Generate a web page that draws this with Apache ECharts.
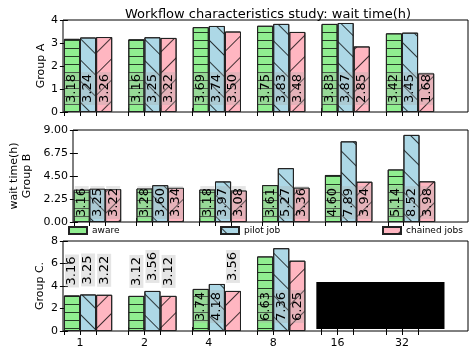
<!DOCTYPE html>
<html>
<head>
<meta charset="utf-8">
<script src="https://cdn.jsdelivr.net/npm/echarts@6/dist/echarts.min.js"></script>
<style>
  html, body { margin: 0; padding: 0; background: #fff; }
  #chart { width: 474px; height: 354px; }
</style>
</head>
<body>
<div id="chart"></div>
<script>
// categories (number of ...)
var groups = ['1', '2', '4', '8', '16', '32'];
var seriesNames = ['aware', 'pilot job', 'chained jobs'];

// Group A
var awareA   = [3.18, 3.16, 3.69, 3.75, 3.83, 3.42];
var pilotA   = [3.24, 3.25, 3.74, 3.83, 3.87, 3.45];
var chainedA = [3.26, 3.22, 3.50, 3.48, 2.85, 1.68];

// Group B
var awareB   = [3.16, 3.28, 3.18, 3.61, 4.60, 5.14];
var pilotB   = [3.25, 3.60, 3.97, 5.27, 7.89, 8.52];
var chainedB = [3.22, 3.34, 3.08, 3.36, 3.94, 3.98];

// Group C (16 and 32 are blacked out)
var awareC   = [3.16, 3.12, 3.74, 6.63, null, null];
var pilotC   = [3.25, 3.56, 4.18, 7.36, null, null];
var chainedC = [3.22, 3.12, 3.56, 6.25, null, null];

// black box over group C, in data coords [x0, y0, x1, y1]
var cMaskBox = [3.92, 4.36, 5.91, 0.18];

// y tick ranges
var yTicksA = [0, 1, 2, 3, 4];
var yTicksB = [0, 2.25, 4.5, 6.75, 9];
var yTicksC = [0, 2, 4, 6, 8];

var colors = ['#90ee90', '#add8e6', '#ffb6c1'];
var decals = [
    { symbol: 'rect', symbolSize: 1, dashArrayX: [1, 0], dashArrayY: [1, 6.5], rotation: 0, color: 'rgba(0,0,0,0.75)' },
    { symbol: 'rect', symbolSize: 1, dashArrayX: [1, 0], dashArrayY: [1, 14], rotation: Math.PI / 4, color: 'rgba(0,0,0,0.75)' },
    { symbol: 'rect', symbolSize: 1, dashArrayX: [1, 0], dashArrayY: [1, 14], rotation: -Math.PI / 4, color: 'rgba(0,0,0,0.75)' }
];
var font = 'DejaVu Sans';
var barW = 16.1;
var xMin = -0.014, xMax = 6.275;

var labelTicks = groups.map(function (g, i) { return i + 0.25; });
var minorTicks = [];
groups.forEach(function (g, i) { minorTicks.push(i, i + 0.25, i + 0.5); });

var grids = [
    { left: 63, right: 6, top: 20, height: 92 },
    { left: 63, right: 6, top: 130, height: 92 },
    { left: 63, right: 6, top: 241, height: 90 }
];

function xAxes(gi, showLabels) {
    var base = {
        type: 'value', gridIndex: gi, min: xMin, max: xMax,
        axisLine: { show: false }, splitLine: { show: false },
        axisTick: { show: true, inside: true, length: 4, customValues: minorTicks, lineStyle: { color: '#000' } }
    };
    var bottom = Object.assign({}, base, {
        position: 'bottom',
        axisLabel: {
            show: showLabels, customValues: labelTicks, margin: 7,
            fontFamily: font, fontSize: 11, color: '#000',
            formatter: function (v) { return groups[Math.round(v - 0.25)]; }
        }
    });
    var top = Object.assign({}, base, { position: 'top', axisLabel: { show: false } });
    return [bottom, top];
}

function yAxes(gi, ticks, name, nameGap, fmt) {
    var base = {
        type: 'value', gridIndex: gi, min: ticks[0], max: ticks[ticks.length - 1],
        interval: ticks[1] - ticks[0],
        axisLine: { show: false }, splitLine: { show: false },
        axisTick: { show: true, inside: true, length: 4, lineStyle: { color: '#000' } }
    };
    var left = Object.assign({}, base, {
        position: 'left',
        name: name, nameLocation: 'middle', nameGap: nameGap, nameRotate: 90,
        nameMoveOverlap: false,
        nameTextStyle: { fontFamily: font, fontSize: 11, color: '#000', lineHeight: 13 },
        axisLabel: { margin: 5, fontFamily: font, fontSize: 11, color: '#000', formatter: fmt }
    });
    var right = Object.assign({}, base, { position: 'right', axisLabel: { show: false } });
    return [left, right];
}

function barSeries(vals, k, gi, dist, aboveBelow) {
    var offset = 0.125 + 0.25 * k;
    var data = [];
    vals.forEach(function (v, i) {
        if (v == null) return;
        var item = { value: [i + offset, v] };
        if (aboveBelow != null && v < aboveBelow) {
            item.label = { position: 'top', distance: 8 };
        }
        data.push(item);
    });
    return {
        type: 'bar', name: seriesNames[k],
        xAxisIndex: gi * 2, yAxisIndex: gi * 2,
        barWidth: barW, barGap: '-100%',
        data: data,
        itemStyle: { color: colors[k], borderColor: '#222', borderWidth: 1, decal: decals[k] },
        label: {
            show: true, rotate: 90, position: 'insideBottom', distance: dist,
            align: 'left', verticalAlign: 'middle',
            fontFamily: font, fontSize: 13, color: '#000',
            backgroundColor: 'rgba(170,170,170,0.3)', padding: [1, 2, 0, 2],
            formatter: function (p) { return p.value[1].toFixed(2); }
        },
        emphasis: { disabled: true },
        z: 2
    };
}

var series = [];
[[awareA, pilotA, chainedA], [awareB, pilotB, chainedB], [awareC, pilotC, chainedC]].forEach(function (set, gi) {
    var dist = [7, 3, 8][gi];
    set.forEach(function (vals, k) {
        series.push(barSeries(vals, k, gi, dist, gi === 2 ? 3.6 : null));
    });
});

// blacked out area in group C
series[series.length - 1].markArea = {
    silent: true,
    itemStyle: { color: '#000', opacity: 1 },
    label: { show: false },
    data: [[{ coord: [cMaskBox[0], cMaskBox[1]] }, { coord: [cMaskBox[2], cMaskBox[3]] }]]
};

function legendFor(name, left) {
    return {
        data: [name], left: left, top: 226, icon: 'rect',
        itemWidth: 18, itemHeight: 7, itemGap: 0, padding: 0,
        textStyle: { fontFamily: font, fontSize: 9, color: '#000' },
        selectedMode: false
    };
}

var option = {
    animation: false,
    backgroundColor: '#fff',
    title: {
        text: 'Workflow characteristics study: wait time(h)',
        left: 263, top: 3, textAlign: 'center',
        textStyle: { fontFamily: font, fontSize: 13, fontWeight: 'normal', color: '#000' }
    },
    legend: [legendFor('aware', 68), legendFor('pilot job', 220), legendFor('chained jobs', 382)],
    grid: grids.map(function (g) {
        return Object.assign({ show: true, borderColor: '#000', borderWidth: 1, backgroundColor: '#fff' }, g);
    }),
    xAxis: [].concat(xAxes(0, false), xAxes(1, false), xAxes(2, true)),
    yAxis: [].concat(
        yAxes(0, yTicksA, 'Group A', 15, function (v) { return String(v); }),
        yAxes(1, yTicksB, 'wait time(h)\nGroup B', 39, function (v) { return v.toFixed(2); }),
        yAxes(2, yTicksC, 'Group C.', 16, function (v) { return String(v); })
    ),
    series: series
};

var chart = echarts.init(document.getElementById('chart'));
chart.setOption(option);
</script>
</body>
</html>
